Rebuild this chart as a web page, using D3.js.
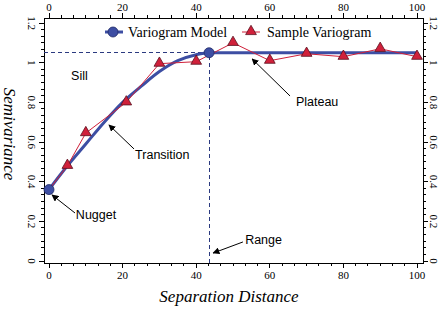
<!DOCTYPE html>
<html><head><meta charset="utf-8">
<script src="https://cdn.jsdelivr.net/npm/d3@7"></script>
<style>body{margin:0;background:#fff}svg{display:block}</style>
</head><body>
<script>
// ---- data ----
const modelX = [0, 5, 10, 15, 20, 25, 30, 35, 40, 43.5, 100];
const modelY = [0.36, 0.48, 0.59, 0.70, 0.80, 0.88, 0.955, 1.01, 1.04, 1.05, 1.05];
const modelMarkX = [0, 43.5];
const modelMarkY = [0.36, 1.05];
const sampleX = [0, 5, 10, 21, 30, 40, 50, 60, 70, 80, 90, 100];
const sampleY = [0.36, 0.48, 0.645, 0.80, 0.995, 1.005, 1.10, 1.01, 1.045, 1.03, 1.07, 1.03];
const sill = 1.05, rangeX = 43.5;
const xTicks = [0, 20, 40, 60, 80, 100];
const yTicks = [0, 0.2, 0.4, 0.6, 0.8, 1, 1.2];
const yTickLabels = ["0", "0.2", "0.4", "0.6", "0.8", "1", "1.2"];
const seriesNames = ["Variogram Model", "Sample Variogram"];
const annText = ["Sill", "Plateau", "Transition", "Nugget", "Range"];
const annTx = [6.0, 67.1, 23.4, 7.3, 53.3];
const annTy = [0.913, 0.782, 0.514, 0.212, 0.086];
// arrows: [fromX, fromY, toX, toY]
const arrowFrom = [[65.5, 0.832], [23.1, 0.565], [7.07, 0.242], [52.7, 0.096]];
const arrowTo = [[55.2, 1.019], [16.3, 0.686], [0.82, 0.333], [44.6, 0.040]];

const W = 443, H = 310;
const L = 44, R = 423, T = 18, B = 263;
const blue = "#3d4ea3", red = "#d0203a";
const x = d3.scaleLinear().domain([0, 100]).range([49, 417]);
const y = d3.scaleLinear().domain([0, 1.2]).range([261, 23]);

const svg = d3.select("body").append("svg").attr("width", W).attr("height", H);
const defs = svg.append("defs");
defs.append("marker").attr("id", "ah").attr("viewBox", "0 0 10 10").attr("refX", 9).attr("refY", 5)
  .attr("markerWidth", 7).attr("markerHeight", 7).attr("markerUnits", "userSpaceOnUse").attr("orient", "auto")
  .append("path").attr("d", "M0,0 L10,5 L0,10 z").attr("fill", "#000");

// frame
svg.append("rect").attr("x", L).attr("y", T).attr("width", R - L).attr("height", B - T)
  .attr("fill", "none").attr("stroke", "#000").attr("stroke-width", 1).attr("shape-rendering", "crispEdges");

// minor tick helper
function minors(ticks) {
  const out = [];
  for (let i = 0; i < ticks.length - 1; i++) {
    const a = ticks[i], b = ticks[i + 1];
    for (let k = 1; k < 6; k++) out.push(a + (b - a) * k / 6);
  }
  return out;
}
const tickFont = "'Liberation Serif','Times New Roman',serif";
const g = svg.append("g").attr("shape-rendering", "crispEdges").attr("stroke", "#000");
// bottom & top
xTicks.forEach(v => {
  g.append("line").attr("x1", x(v)).attr("x2", x(v)).attr("y1", B).attr("y2", B + 5);
  g.append("line").attr("x1", x(v)).attr("x2", x(v)).attr("y1", T).attr("y2", T - 5);
});
minors(xTicks).forEach(v => {
  g.append("line").attr("x1", x(v)).attr("x2", x(v)).attr("y1", B).attr("y2", B + 3);
  g.append("line").attr("x1", x(v)).attr("x2", x(v)).attr("y1", T).attr("y2", T - 3);
});
yTicks.forEach(v => {
  g.append("line").attr("y1", y(v)).attr("y2", y(v)).attr("x1", L).attr("x2", L - 5);
  g.append("line").attr("y1", y(v)).attr("y2", y(v)).attr("x1", R).attr("x2", R + 5);
});
minors(yTicks).forEach(v => {
  g.append("line").attr("y1", y(v)).attr("y2", y(v)).attr("x1", L).attr("x2", L - 3);
  g.append("line").attr("y1", y(v)).attr("y2", y(v)).attr("x1", R).attr("x2", R + 3);
});
// tick labels
xTicks.forEach(v => {
  svg.append("text").attr("x", x(v)).attr("y", 279).attr("text-anchor", "middle")
    .attr("font-family", tickFont).attr("font-size", 11).text(v);
  svg.append("text").attr("x", x(v)).attr("y", 11).attr("text-anchor", "middle")
    .attr("font-family", tickFont).attr("font-size", 11).text(v);
});
yTicks.forEach((v, i) => {
  [32, 434].forEach(cx => {
    svg.append("text").attr("transform", `translate(${cx},${y(v)}) rotate(90)`)
      .attr("text-anchor", "middle").attr("dy", "0.35em")
      .attr("font-family", tickFont).attr("font-size", 11).text(yTickLabels[i]);
  });
});
// axis titles
svg.append("text").attr("x", 229).attr("y", 302).attr("text-anchor", "middle")
  .attr("font-family", tickFont).attr("font-style", "italic").attr("font-size", 17).text("Separation Distance");
svg.append("text").attr("transform", `translate(10,134) rotate(90)`).attr("text-anchor", "middle").attr("dy", "0.35em")
  .attr("font-family", tickFont).attr("font-style", "italic").attr("font-size", 17).text("Semivariance");

// sill / range dashed lines
svg.append("path").attr("d", `M${L},${y(sill)}H${x(rangeX)}V${B}`)
  .attr("fill", "none").attr("stroke", "#2b3a80").attr("stroke-width", 1).attr("stroke-dasharray", "4,3")
  .attr("shape-rendering", "crispEdges");

// model line
const modelData = modelX.map((v, i) => [v, modelY[i]]);
svg.append("path").datum(modelData)
  .attr("d", d3.line().x(d => x(d[0])).y(d => y(d[1])).curve(d3.curveMonotoneX))
  .attr("fill", "none").attr("stroke", blue).attr("stroke-width", 3);

// sample line
const sampleData = sampleX.map((v, i) => [v, sampleY[i]]);
svg.append("path").datum(sampleData)
  .attr("d", d3.line().x(d => x(d[0])).y(d => y(d[1])))
  .attr("fill", "none").attr("stroke", red).attr("stroke-width", 1);
const tri = d3.symbol().type(d3.symbolTriangle).size(50);
svg.selectAll(".tri").data(sampleData.slice(1)).enter().append("path")
  .attr("transform", d => `translate(${x(d[0])},${y(d[1]) - 0.5})`).attr("d", tri)
  .attr("fill", red).attr("stroke", "#5a1020").attr("stroke-width", 0.8);

// model markers
svg.selectAll(".circ").data(modelMarkX.map((v, i) => [v, modelMarkY[i]])).enter().append("circle")
  .attr("cx", d => x(d[0])).attr("cy", d => y(d[1])).attr("r", 5)
  .attr("fill", blue).attr("stroke", "#1f2a66").attr("stroke-width", 0.8);

// legend
const lg = svg.append("g").attr("font-family", tickFont).attr("font-size", 14);
lg.append("line").attr("x1", 105).attr("x2", 123).attr("y1", 32).attr("y2", 32).attr("stroke", blue).attr("stroke-width", 3);
lg.append("circle").attr("cx", 113).attr("cy", 32).attr("r", 5).attr("fill", blue).attr("stroke", "#1f2a66").attr("stroke-width", 0.8);
lg.append("text").attr("x", 128).attr("y", 37).text(seriesNames[0]);
lg.append("line").attr("x1", 242).attr("x2", 260).attr("y1", 32).attr("y2", 32).attr("stroke", red).attr("stroke-width", 1);
lg.append("path").attr("transform", "translate(251,31.5)").attr("d", tri).attr("fill", red).attr("stroke", "#5a1020").attr("stroke-width", 0.8);
lg.append("text").attr("x", 267).attr("y", 37).text(seriesNames[1]);

// annotations
const af = "'Liberation Sans',Arial,sans-serif";
annText.forEach((t, i) => {
  svg.append("text").attr("x", x(annTx[i])).attr("y", y(annTy[i]))
    .attr("font-family", af).attr("font-size", 12.5).attr("fill", "#000").text(t);
});
arrowFrom.forEach((f, i) => {
  const to = arrowTo[i];
  svg.append("line").attr("x1", x(f[0])).attr("y1", y(f[1])).attr("x2", x(to[0])).attr("y2", y(to[1]))
    .attr("stroke", "#000").attr("stroke-width", 1).attr("marker-end", "url(#ah)");
});
</script>
</body></html>
